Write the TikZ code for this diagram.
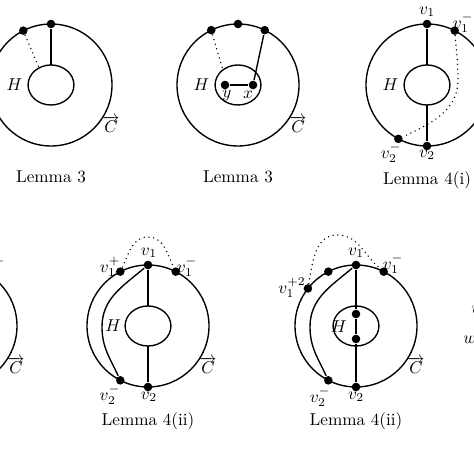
\documentclass[tikz,border=0pt]{standalone}
\usepackage{tikz}
\usetikzlibrary{positioning,shapes.geometric}

\begin{document}
\begin{tikzpicture}[
    x = 0.0205cm, y = 0.0205cm, line width=0.8pt,
    ring/.style = {draw, circle, minimum size=2.5cm, inner sep=0pt, outer sep=0pt},
    hole/.style = {draw, ellipse, minimum width=0.94cm, minimum height=0.82cm, inner sep=0pt, outer sep=0pt},
    vtx/.style = {fill, circle, minimum size=5pt, inner sep=0pt},
    lbl/.style = {inner sep=1pt},
    dotline/.style = {line cap=round, dash pattern=on 0pt off 2.8pt, line width=0.9pt}
]
\useasboundingbox (0,0) rectangle (474,474);
\clip (0,0) rectangle (474,474);

% Lemma 3 (first)
\begin{scope}[shift={(51,389)}]
\node (rA) [ring] at (0,0) {};
\node (hA) [hole] at (0,0) {};
\node (a1) [vtx] at (rA.90) {};
\node (a2) [vtx] at (rA.117) {};
\node (hAl) [lbl, left=2pt of hA] {$H$};
\node (cA) at (60,-39) {$\overrightarrow{C}$};
\node (tA) [below=11pt of rA] {Lemma 3};
\draw (a1) -- (hA.north);
\draw[dotline] (a2) -- (hA.125);
\end{scope}

% Lemma 3 (second)
\begin{scope}[shift={(238,389)}]
\node (rB) [ring] at (0,0) {};
\node (hB) [hole] at (0,0) {};
\node (b1) [vtx] at (rB.116) {};
\node (b2) [vtx] at (rB.90) {};
\node (b3) [vtx] at (rB.64) {};
\node (by) [vtx] at (-13,0) {};
\node (bx) [vtx] at (15,0) {};
\node (byl) [lbl] at (-11,-10) {$y$};
\node (bxl) [lbl] at (10,-10) {$x$};
\node (hBl) [lbl, left=2pt of hB] {$H$};
\node (cB) at (60,-39) {$\overrightarrow{C}$};
\node (tB) [below=11pt of rB] {Lemma 3};
\draw (by) -- (bx);
\draw (b3) -- (bx);
\draw[dotline] (b1) -- (hB.135);
\end{scope}

% Lemma 4(i)
\begin{scope}[shift={(427,389)}]
\node (rC) [ring] at (0,0) {};
\node (hC) [hole] at (0,0) {};
\node (c1) [vtx] at (rC.90) {};
\node (c2) [vtx] at (rC.63) {};
\node (c3) [vtx] at (rC.270) {};
\node (c4) [vtx] at (rC.242) {};
\coordinate (kC) at (31,5);
\node (c1l) [lbl] at (0,73) {$v_1$};
\node (c2l) [lbl] at (36,62) {$v_1^-$};
\node (c3l) [lbl] at (0,-70) {$v_2$};
\node (c4l) [lbl] at (-36,-68) {$v_2^-$};
\node (hCl) [lbl, left=2pt of hC] {$H$};
\node (cC) at (60,-39) {$\overrightarrow{C}$};
\node (tC) [below=11pt of rC] {Lemma 4(i)};
\draw (c1) -- (hC.north);
\draw (hC.south) -- (c3);
\draw[dotline] (c2) to[out=-85,in=90] (kC) to[out=-90,in=25] (c4);
\end{scope}

% cut off on the left
\begin{scope}[shift={(-44,148)}]
\node (rD) [ring] at (0,0) {};
\node (d1l) [lbl] at (39,59) {$v_1^-$};
\node (cD) at (60,-39) {$\overrightarrow{C}$};
\end{scope}

% Lemma 4(ii) (first)
\begin{scope}[shift={(148,148)}]
\node (rE) [ring] at (0,0) {};
\node (hE) [hole] at (0,0) {};
\node (e1) [vtx] at (rE.90) {};
\node (e2) [vtx] at (rE.117) {};
\node (e3) [vtx] at (rE.63) {};
\node (e4) [vtx] at (rE.270) {};
\node (e5) [vtx] at (rE.243) {};
\coordinate (kE) at (-46,-1);
\coordinate (pE) at (0,89);
\node (e1l) [lbl] at (1,73) {$v_1$};
\node (e2l) [lbl] at (-38,59) {$v_1^+$};
\node (e3l) [lbl] at (39,59) {$v_1^-$};
\node (e4l) [lbl] at (1,-71) {$v_2$};
\node (e5l) [lbl] at (-38,-69) {$v_2^-$};
\node (hEl) [lbl, left=1pt of hE] {$H$};
\node (cE) at (60,-39) {$\overrightarrow{C}$};
\node (tE) [below=11pt of rE] {Lemma 4(ii)};
\draw (e1) -- (hE.north);
\draw (hE.south) -- (e4);
\draw (e1) to[out=220,in=90] (kE) to[out=-90,in=115] (e5);
\draw[dotline] (e2) to[out=65,in=180] (pE) to[out=0,in=115] (e3);
\end{scope}

% Lemma 4(ii) (second)
\begin{scope}[shift={(356,148)}]
\node (rF) [ring] at (0,0) {};
\node (hF) [hole] at (0,0) {};
\node (f1) [vtx] at (rF.90) {};
\node (f2) [vtx] at (rF.63) {};
\node (f3) [vtx] at (rF.117) {};
\node (f4) [vtx] at (rF.142) {};
\node (f5) [vtx] at (rF.270) {};
\node (f6) [vtx] at (rF.243) {};
\node (fa) [vtx] at (0,12) {};
\node (fb) [vtx] at (0,-13) {};
\coordinate (kF) at (-46,-1);
\coordinate (pF) at (-19,91);
\node (f1l) [lbl] at (0,73) {$v_1$};
\node (f2l) [lbl] at (37,62) {$v_1^-$};
\node (f4l) [lbl] at (-64,38) {$v_1^{+2}$};
\node (f5l) [lbl] at (0,-71) {$v_2$};
\node (f6l) [lbl] at (-36,-71) {$v_2^-$};
\node (hFl) [lbl] at (-17,-1) {$H$};
\node (cF) at (60,-39) {$\overrightarrow{C}$};
\node (tF) [below=11pt of rF] {Lemma 4(ii)};
\draw (f1) -- (fa) -- (fb) -- (f5);
\draw (f1) to[out=220,in=90] (kF) to[out=-90,in=115] (f6);
\draw[dotline] (f4) to[out=80,in=180] (pF) to[out=0,in=140] (f2);
\end{scope}

% cut off on the right
\node (vG) [lbl, anchor=west] at (469,164) {$v$};
\node (wG) [lbl, anchor=west] at (461,134) {$w$};
\end{tikzpicture}
\end{document}
